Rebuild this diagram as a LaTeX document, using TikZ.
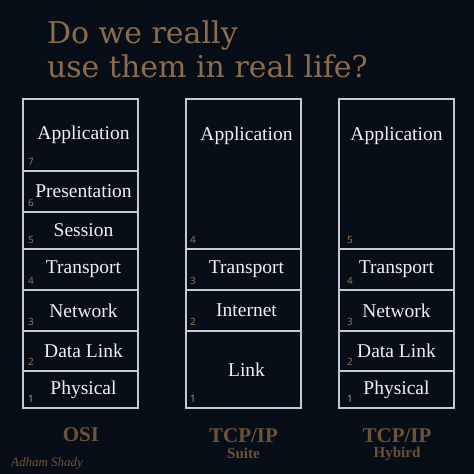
\documentclass[tikz,border=0pt]{standalone}
\usepackage{fontspec}
\setmainfont{Liberation Serif}
\setsansfont{Open Sans}
\newfontfamily\titlefont{DejaVu Serif}
\definecolor{bgnavy}{HTML}{080E18}
\definecolor{titlebrown}{HTML}{8C6B4A}
\definecolor{numbrown}{HTML}{9E7A52}
\definecolor{labelbrown}{HTML}{6E5238}
\definecolor{edgegray}{HTML}{C5CAD0}
\definecolor{textwhite}{HTML}{F0F0F0}
\definecolor{numgray}{HTML}{A8A8A8}

\begin{document}
\begin{tikzpicture}[x=1pt,y=-1pt,inner sep=0pt,outer sep=0pt,
cell/.style={draw=edgegray,line width=1.3pt,rectangle,minimum width=115pt,text=textwhite,font=\fontsize{19.5}{19.5}\selectfont},
shiftcell/.style={cell,execute at begin node={\hspace*{6pt}}},
tallcell/.style={minimum height=150pt,text height=13pt,text depth=81pt},
num/.style={text=numbrown,font=\sffamily\fontsize{10}{10}\selectfont},
stackname/.style={text=labelbrown,anchor=base,font=\bfseries\fontsize{21}{21}\selectfont},
stacksub/.style={text=labelbrown,anchor=base,font=\bfseries\fontsize{15}{15}\selectfont}]

\path[use as bounding box,fill=bgnavy] (0,0) rectangle (474,474);

% title
\draw (47,43) node[anchor=base west,text=titlebrown,font=\titlefont\fontsize{30}{30}\selectfont] (title1) {Do we really};
\draw (47,77) node[anchor=base west,text=titlebrown,font=\titlefont\fontsize{30}{30}\selectfont] (title2) {use them in real life?};

% OSI
\draw (80.5,135) node[shiftcell,minimum height=72] (osi7) {Application};
\draw (80.5,191.5) node[shiftcell,minimum height=41] (osi6) {Presentation};
\draw (80.5,230.5) node[shiftcell,minimum height=37] (osi5) {Session};
\draw (80.5,269.5) node[shiftcell,minimum height=41] (osi4) {Transport};
\draw (80.5,310.5) node[shiftcell,minimum height=41] (osi3) {Network};
\draw (80.5,351) node[shiftcell,minimum height=40] (osi2) {Data Link};
\draw (80.5,389.5) node[shiftcell,minimum height=37] (osi1) {Physical};

\draw (osi7.south west) ++(8,-9) node[num] {7};
\draw (osi6.south west) ++(8,-9) node[num] {6};
\draw (osi5.south west) ++(8,-9) node[num] {5};
\draw (osi4.south west) ++(8,-9) node[num] {4};
\draw (osi3.south west) ++(8,-9) node[num] {3};
\draw (osi2.south west) ++(8,-9) node[num] {2};
\draw (osi1.south west) ++(8,-9) node[num,text=numgray] {1};

\draw (81,441) node[stackname] (osi) {OSI};

% TCP/IP suite
\draw (243.5,174) node[shiftcell,tallcell] (suite4) {Application};
\draw (243.5,269.5) node[shiftcell,minimum height=41] (suite3) {Transport};
\draw (243.5,310.5) node[shiftcell,minimum height=41] (suite2) {Internet};
\draw (243.5,369.5) node[shiftcell,minimum height=77] (suite1) {Link};

\draw (suite4.south west) ++(7,-9) node[num] {4};
\draw (suite3.south west) ++(7,-9) node[num] {3};
\draw (suite2.south west) ++(7,-9) node[num] {2};
\draw (suite1.south west) ++(7,-9) node[num,text=numgray] {1};

\draw (243.5,442) node[stackname] (suite) {TCP/IP};
\draw (243.5,458) node[stacksub] {Suite};

% TCP/IP hybrid
\draw (396.5,174) node[cell,tallcell] (hyb5) {Application};
\draw (396.5,269.5) node[cell,minimum height=41] (hyb4) {Transport};
\draw (396.5,310.5) node[cell,minimum height=41] (hyb3) {Network};
\draw (396.5,351) node[cell,minimum height=40] (hyb2) {Data Link};
\draw (396.5,389.5) node[cell,minimum height=37] (hyb1) {Physical};

\draw (hyb5.south west) ++(11,-9) node[num] {5};
\draw (hyb4.south west) ++(11,-9) node[num] {4};
\draw (hyb3.south west) ++(11,-9) node[num] {3};
\draw (hyb2.south west) ++(11,-9) node[num] {2};
\draw (hyb1.south west) ++(11,-9) node[num,text=numgray] {1};

\draw (397,442) node[stackname] (hybrid) {TCP/IP};
\draw (397,457) node[stacksub] {Hybird};

% signature
\draw (47,463) node[text=labelbrown,font=\itshape\fontsize{13}{13}\selectfont] (sign) {Adham Shady};
\end{tikzpicture}
\end{document}
